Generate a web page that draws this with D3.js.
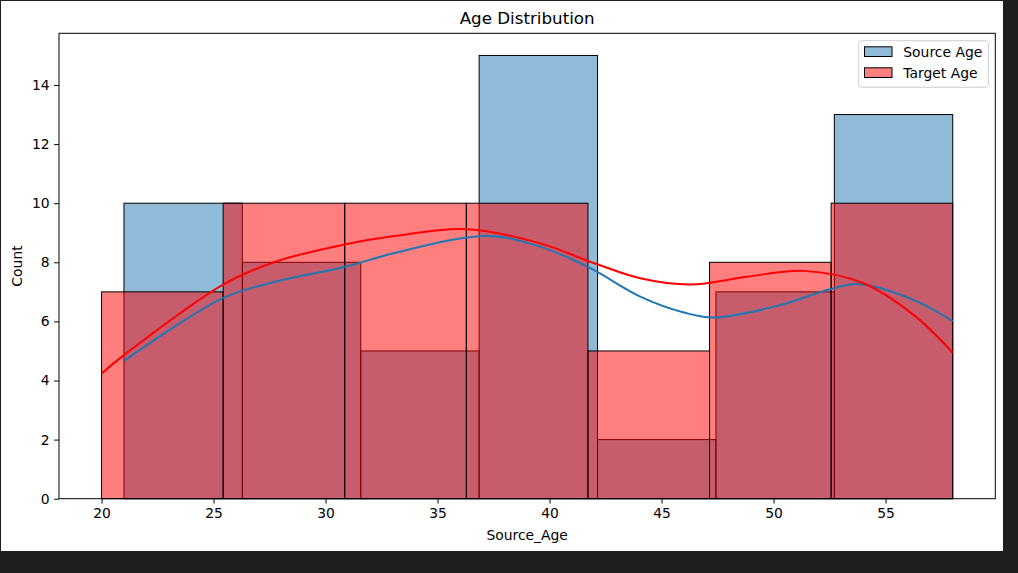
<!DOCTYPE html>
<html><head><meta charset="utf-8">
<script src="https://cdn.jsdelivr.net/npm/d3@7"></script>
<style>html,body{margin:0;padding:0;background:#1f1f1f;}svg{display:block;}text{font-family:"DejaVu Sans",sans-serif;}</style>
</head><body><svg id="c" width="1018" height="573"></svg>
<script>
// Histogram bins (edges) and counts
const sourceEdges = [21, 26.286, 31.571, 36.857, 42.143, 47.429, 52.714, 58];
const sourceCounts = [10, 8, 5, 15, 2, 7, 13];
const targetEdges = [20, 25.429, 30.857, 36.286, 41.714, 47.143, 52.571, 58];
const targetCounts = [7, 10, 10, 10, 5, 8, 10];
// KDE curves (age, count)
const sourceKdeX = [21, 25.39, 27.76, 30.89, 33.0, 37.21, 39.59, 41.82, 44.05, 46.0, 47.32, 50.3, 52.53, 53.87, 56.25, 58];
const sourceKdeY = [4.66, 6.78, 7.34, 7.85, 8.3, 8.89, 8.53, 7.8, 6.84, 6.3, 6.13, 6.55, 7.09, 7.26, 6.73, 6.01];
const targetKdeX = [20, 21, 25.39, 27.76, 30.89, 33.0, 36.32, 39.59, 41.82, 44.05, 46.3, 48.81, 51.34, 54.02, 56.25, 58];
const targetKdeY = [4.24, 4.86, 7.23, 8.02, 8.61, 8.88, 9.12, 8.64, 8.02, 7.46, 7.25, 7.51, 7.71, 7.29, 6.22, 4.94];
const xTicks = [20, 25, 30, 35, 40, 45, 50, 55];
const yTicks = [0, 2, 4, 6, 8, 10, 12, 14];
const seriesNames = ["Source Age", "Target Age"];

const svg = d3.select("#c");
svg.append("rect").attr("x",1).attr("y",1).attr("width",1002).attr("height",550).attr("fill","#fff");

const L=59, R=995.3, T=33.3, B=498.7;
const x = d3.scaleLinear().domain([18.1, 59.9]).range([L, R]);
const y = d3.scaleLinear().domain([0, 15.75]).range([B, T]);

const g = svg.append("g");
function bars(edges, counts, fill) {
  g.selectAll(null).data(counts).enter().append("rect")
    .attr("x", (d,i)=>x(edges[i]))
    .attr("width", (d,i)=>x(edges[i+1])-x(edges[i]))
    .attr("y", d=>y(d))
    .attr("height", d=>y(0)-y(d))
    .attr("fill", fill).attr("fill-opacity", 0.5)
    .attr("stroke", "#000").attr("stroke-width", 1);
}
bars(sourceEdges, sourceCounts, "#1f77b4");
bars(targetEdges, targetCounts, "#ff0000");

const line = d3.line().x(d=>x(d[0])).y(d=>y(d[1])).curve(d3.curveCatmullRom.alpha(0.5));
g.append("path").datum(sourceKdeX.map((v,i)=>[v, sourceKdeY[i]]))
  .attr("d", line).attr("fill","none").attr("stroke","#1f77b4").attr("stroke-width",2);
g.append("path").datum(targetKdeX.map((v,i)=>[v, targetKdeY[i]]))
  .attr("d", line).attr("fill","none").attr("stroke","#ff0000").attr("stroke-width",2);

// axes
const xa = svg.append("g").attr("transform",`translate(0,${B})`)
  .call(d3.axisBottom(x).tickValues(xTicks).tickSize(4.9).tickPadding(4.5).tickFormat(d3.format("d")));
const ya = svg.append("g").attr("transform",`translate(${L},0)`)
  .call(d3.axisLeft(y).tickValues(yTicks).tickSize(4.9).tickPadding(4.5).tickFormat(d3.format("d")));
[xa, ya].forEach(a=>{
  a.select(".domain").remove();
  a.selectAll("text").attr("font-size","13.9px").attr("fill","#000").attr("font-family","DejaVu Sans");
  a.selectAll("line").attr("stroke","#000").attr("stroke-width",1);
});
svg.append("rect").attr("x",L).attr("y",T).attr("width",R-L).attr("height",B-T)
  .attr("fill","none").attr("stroke","#000").attr("stroke-width",1);

svg.append("text").attr("x",(L+R)/2).attr("y",24).attr("text-anchor","middle")
  .attr("font-size","16.7px").text("Age Distribution");
svg.append("text").attr("x",(L+R)/2).attr("y",540).attr("text-anchor","middle")
  .attr("font-size","13.9px").text("Source_Age");
svg.append("text").attr("transform",`translate(22,${(T+B)/2}) rotate(-90)`).attr("text-anchor","middle")
  .attr("font-size","13.9px").text("Count");

// legend
const lg = svg.append("g");
lg.append("rect").attr("x",858.7).attr("y",40.7).attr("width",129.6).attr("height",46.6)
  .attr("rx",3).attr("fill","#fff").attr("fill-opacity",0.8).attr("stroke","#d0d0d0").attr("stroke-width",1);
const legColors = ["#1f77b4", "#ff0000"];
seriesNames.forEach((n,i)=>{
  lg.append("rect").attr("x",864.5).attr("y",46.8+i*21).attr("width",27.5).attr("height",9.7)
    .attr("fill",legColors[i]).attr("fill-opacity",0.5).attr("stroke","#000").attr("stroke-width",1);
  lg.append("text").attr("x",903.3).attr("y",57+i*21).attr("font-size","13.9px").text(n);
});
</script></body></html>
